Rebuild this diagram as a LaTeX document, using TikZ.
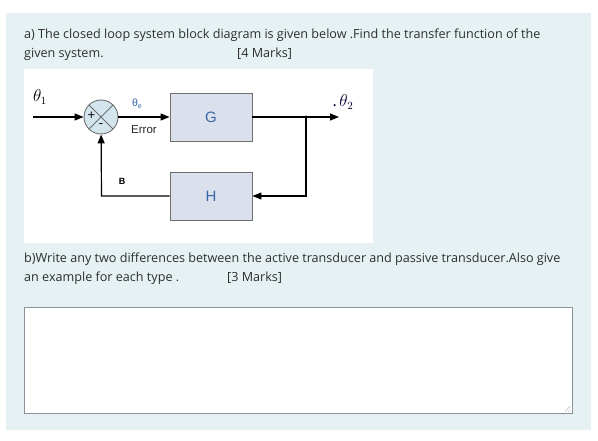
\documentclass[tikz,border=0pt]{standalone}
\usepackage{amsmath}
\usepackage{fontspec}
\setmainfont{Open Sans}
\newfontfamily\arialfont{Liberation Sans}
\usetikzlibrary{arrows.meta}
\definecolor{panelbg}{HTML}{E6F1F4}
\definecolor{qtext}{HTML}{2E2E2E}
\definecolor{boxfill}{HTML}{DAE1EC}
\definecolor{boxedge}{HTML}{6E6E6E}
\definecolor{sumfill}{HTML}{D3E6EE}
\definecolor{gblue}{HTML}{3A66A8}
\definecolor{fieldedge}{HTML}{8A939C}

\begin{document}
\begin{tikzpicture}[x=1pt, y=-1pt, >={Triangle[length=9pt,width=7pt]},
		qline/.style={font=\fontsize{12.6}{15}\selectfont, text=qtext, anchor=base west, inner sep=0pt},
		block/.style={draw=boxedge, fill=boxfill, line width=0.9pt, minimum width=82pt, minimum height=48pt,
			font=\arialfont\fontsize{15}{15}\selectfont, text=gblue},
		sumjunction/.style={circle, draw=boxedge, fill=sumfill, line width=0.9pt, inner sep=0pt, minimum size=34pt, path picture={
			\draw[boxedge, line width=0.8pt] (path picture bounding box.north west) -- (path picture bounding box.south east)
				(path picture bounding box.south west) -- (path picture bounding box.north east);}},
		signal/.style={line width=1.2pt}]
		% ---------------- page and panel ----------------
		\useasboundingbox (0,0) rectangle (598,441);
		\fill[white] (0,0) rectangle (598,441);
		\fill[panelbg] (6,13) rectangle (591,430);
		\node[qline] (qa1) at (24,38.5) {a) The closed loop system block diagram is given below .Find the transfer function of the};
		\node[qline] (qa2) at (24,57.5) {given system.};
		\node[qline] (qa3) at (237,57.5) {[4 Marks]};
		% ---------------- block diagram ----------------
		\fill[white] (24,69) rectangle (373,243);
		\coordinate (in) at (33,117);
		\node[sumjunction] (sum) at (101,117) {};
		\node[font=\arialfont\fontsize{13}{13}\selectfont] (plus) at (91.5,116) {+};
		\node[font=\arialfont\fontsize{13}{13}\selectfont] (minus) at (101,125.5) {-};
		\node[block] (G) at (211,117) {G};
		\node[block] (H) at (211,196) {H};
		\coordinate (branch) at (306,117);
		\coordinate (out) at (339,117);
		\coordinate (fbcorner) at (306,196);
		\coordinate (bcorner) at (101.5,196);
		\draw[signal, ->] (in) -- (sum);
		\draw[signal, ->] (sum) -- (G);
		\draw[signal, ->] (G) -- (out);
		\fill (branch) circle (1.7pt);
		\draw[signal, ->] (branch) -- (fbcorner) -- (H);
		\draw[signal, ->] (H) -- (bcorner) -- (sum);
		\node[font=\fontsize{16}{16}\selectfont] (thin) at (40,97) {$\theta_1$};
		\node[font=\fontsize{16}{16}\selectfont, text=black!80!blue, anchor=west] (thout) at (329,102) {.\,$\theta_2$};
		\node[font=\arialfont\fontsize{10.5}{10.5}\selectfont, text=gblue] (the) at (137,104) {θ\raisebox{-2pt}{\fontsize{7}{7}\selectfont e}};
		\node[font=\arialfont\fontsize{11.5}{11.5}\selectfont, text=black!85] (err) at (144,130) {Error};
		\node[font=\arialfont\bfseries\fontsize{9}{9}\selectfont] (bsig) at (122,181) {B};
		% ---------------- part b ----------------
		\node[qline] (qb1) at (24,263) {b)Write any two differences between the active transducer and passive transducer.Also give};
		\node[qline] (qb2) at (24,282) {an example for each type .};
		\node[qline] (qb3) at (227,282) {[3 Marks]};
		% answer field
		\draw[fieldedge, fill=white, line width=0.8pt] (24.5,307.5) rectangle (572.5,413.5);
		\draw[gray, line width=0.5pt, dash pattern=on 0.8pt off 0.8pt] (565,411.5) -- (570.5,406) (568.5,411.5) -- (570.5,409.5);
	\end{tikzpicture}
\end{document}
